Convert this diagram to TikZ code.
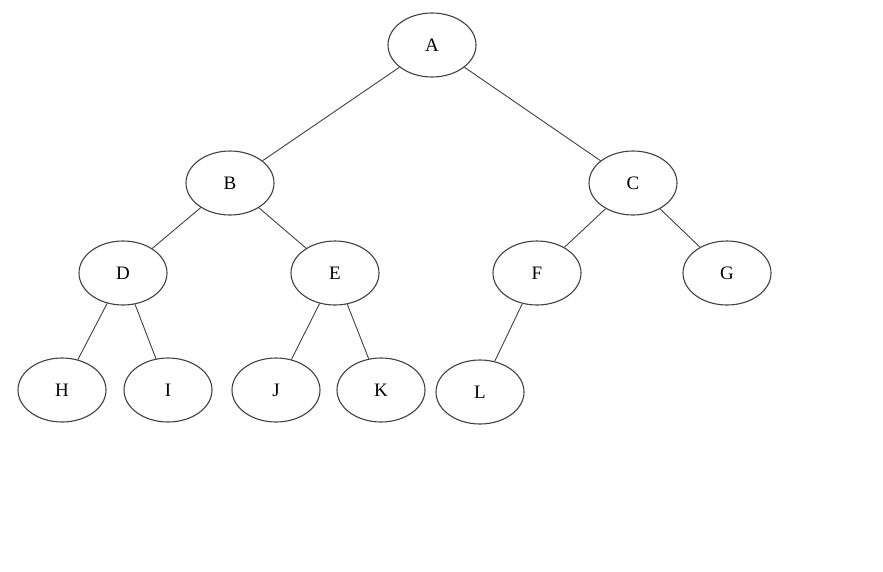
\documentclass[tikz,border=0pt]{standalone}
\usepackage{fontspec}
\setmainfont{Liberation Serif}
\usetikzlibrary{shapes.geometric}
\begin{document}
\begin{tikzpicture}[x=1pt,y=-1pt,
  tnode/.style={draw=black!75,line width=1.1pt,ellipse,minimum width=88pt,minimum height=64pt,inner sep=0pt,font=\fontsize{19}{19}\selectfont},
  edge/.style={draw=black!75,line width=0.9pt}]
\useasboundingbox (0,0) rectangle (883,571);
\node[tnode] (A) at (432,45) {A};
\node[tnode] (B) at (230,183) {B};
\node[tnode] (C) at (633,183) {C};
\node[tnode] (D) at (123,273) {D};
\node[tnode] (E) at (335,273) {E};
\node[tnode] (F) at (537,273) {F};
\node[tnode] (G) at (727,273) {G};
\node[tnode] (H) at (62,390) {H};
\node[tnode] (I) at (168,390) {I};
\node[tnode] (J) at (276,390) {J};
\node[tnode] (K) at (381,390) {K};
\node[tnode] (L) at (480,392) {L};
\foreach \a/\b in {A/B,A/C,B/D,B/E,C/F,C/G,D/H,D/I,E/J,E/K,F/L}
  \draw[edge] (\a) -- (\b);
\end{tikzpicture}
\end{document}
